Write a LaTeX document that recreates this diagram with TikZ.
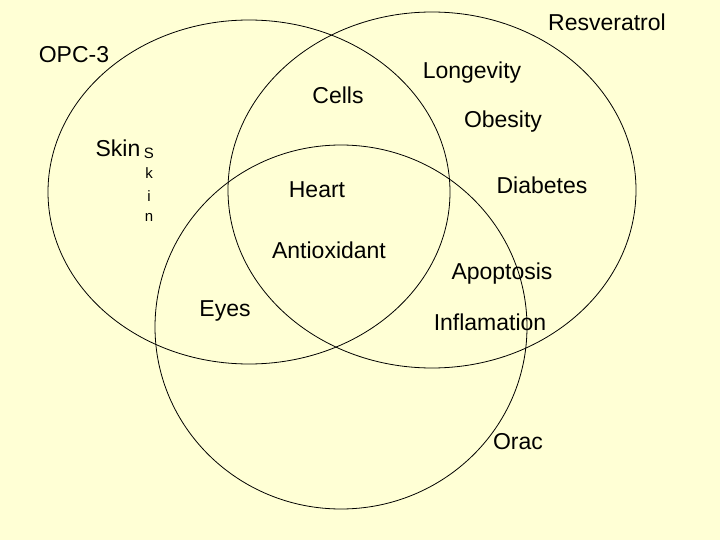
\documentclass[tikz,border=0pt]{standalone}
\usepackage{fontspec}
\setmainfont{Liberation Sans}
\definecolor{paper}{HTML}{FFFFD5}
\begin{document}
\begin{tikzpicture}[x=1pt,y=-1pt,
  set/.style={draw=black,line width=0.8pt},
  lbl/.style={font=\fontsize{23}{26}\selectfont},
  tiny/.style={font=\fontsize{15}{17}\selectfont,inner sep=0pt}]
  \fill[paper] (0,0) rectangle (720,540);
  \useasboundingbox (0,0) rectangle (720,540);
  % the three sets
  \draw[set] (249,192) ellipse [x radius=201,y radius=172];
  \draw[set] (432,190) ellipse [x radius=204,y radius=178];
  \draw[set] (341,327) ellipse [x radius=186,y radius=182];
  % labels
  \node[lbl] (resv) at (607,22) {Resveratrol};
  \node[lbl] (opc) at (74,55) {OPC-3};
  \node[lbl] (orac) at (518,442) {Orac};
  \node[lbl] (longev) at (472,73) {Longevity};
  \node[lbl] (cells) at (338,95) {Cells};
  \node[lbl] (obes) at (503,122) {Obesity};
  \node[lbl] (skin) at (118,148) {Skin};
  \node[lbl] (diab) at (542,185) {Diabetes};
  \node[lbl] (heart) at (317,190) {Heart};
  \node[lbl] (antiox) at (329,250) {Antioxidant};
  \node[lbl] (apop) at (502,274) {Apoptosis};
  \node[lbl] (eyes) at (225,311) {Eyes};
  \node[lbl] (inflam) at (490,322) {Inflamation};
  \foreach \c/\y in {S/153,k/173,i/196,n/217}
    \node[tiny] at (149,\y) {\c};
\end{tikzpicture}
\end{document}
